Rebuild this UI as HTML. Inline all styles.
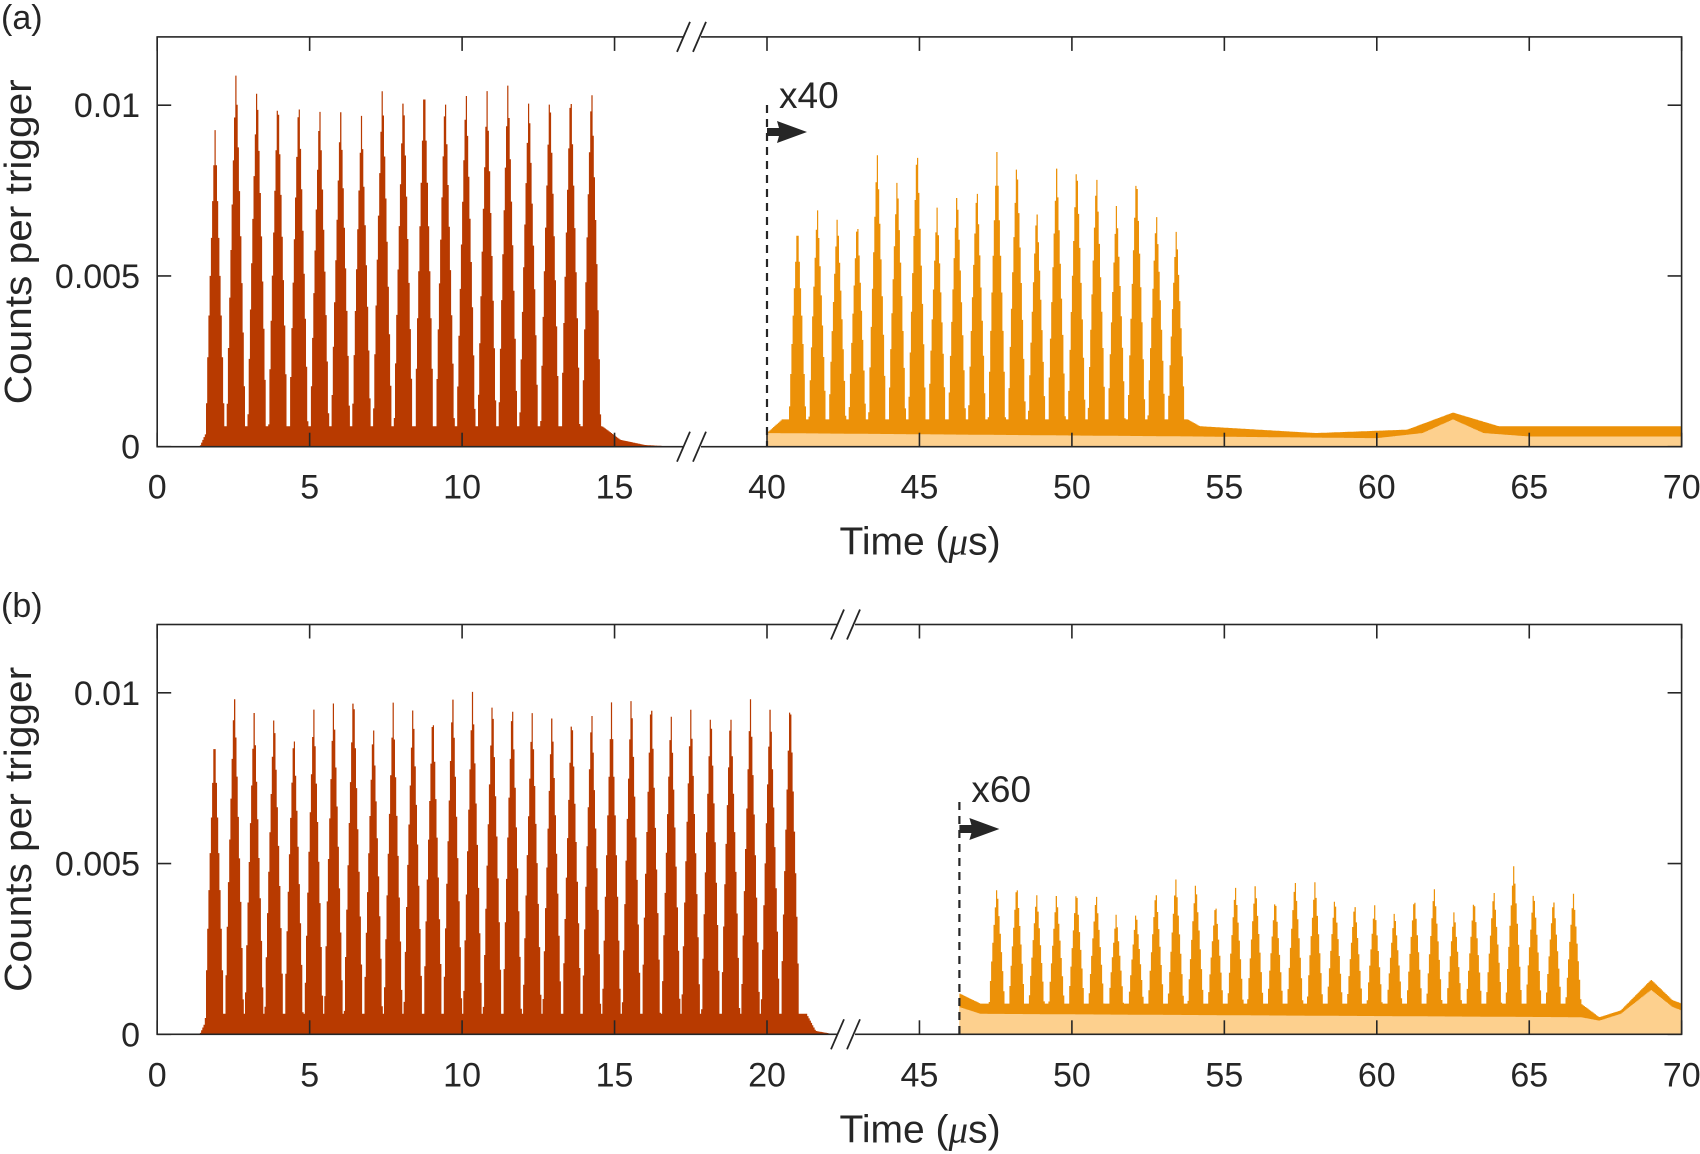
<!DOCTYPE html>
<html><head><meta charset="utf-8"><style>
html,body{margin:0;padding:0;background:#fff;}
svg{display:block;}
text{font-family:"Liberation Sans",Arial,sans-serif;fill:#262626;}
</style></head>
<body>
<svg id="fig" width="1700" height="1154" viewBox="0 0 1700 1154" xmlns="http://www.w3.org/2000/svg"></svg>
<script>
// ---- data ----
const redA_heights = [0.00927,0.01105,0.01069,0.01035,0.01033,0.01008,0.0099,0.00974,0.01064,0.01045,0.01076,0.01042,0.0105,0.01047,0.01069,0.01033,0.01048,0.01056,0.01064];
const redA_start = 1.9, redA_period = 0.686;
const orA_heights = [0.00655,0.00704,0.0068,0.00672,0.00863,0.00795,0.00886,0.00704,0.00754,0.00771,0.00863,0.00845,0.00704,0.00819,0.00836,0.00804,0.00713,0.00805,0.00688,0.0064];
const orA_start = 41.0, orA_period = 0.654;
const redB_heights = [0.00884,0.01006,0.00946,0.00953,0.00897,0.00964,0.00985,0.01016,0.0092,0.00974,0.00975,0.00955,0.01002,0.01011,0.00995,0.00985,0.00951,0.00943,0.00948,0.00961,0.00972,0.01006,0.00997,0.00948,0.00961,0.00961,0.00958,0.00989,0.00972,0.00994];
const redB_start = 1.88, redB_period = 0.651;
const orB_heights = [0.00434,0.00444,0.00414,0.00412,0.00426,0.00414,0.00352,0.00362,0.00424,0.00456,0.00448,0.00388,0.00436,0.00441,0.00401,0.00456,0.00448,0.00404,0.00388,0.0038,0.00363,0.00406,0.00432,0.00363,0.004,0.00426,0.00495,0.00422,0.00402,0.00414];
const orB_start = 47.54, orB_period = 0.652;
const redA_bgT = [1.4,1.7,14.6,15.2,16,17]; const redA_bg = [0,0.0006,0.0006,0.0002,0.00005,0];
const orA_darkT = [40,40.5,53.8,54.2,58,61,62.5,64,66,70]; const orA_dark = [0.0004,0.0008,0.0008,0.0006,0.0004,0.0005,0.001,0.0006,0.0006,0.0006];
const orA_lightT = [40,54,60,61.5,62.5,63.5,65,70]; const orA_light = [0.0004,0.0003,0.00025,0.0004,0.0008,0.0004,0.0003,0.0003];
const redB_bgT = [1.4,1.7,21.3,21.6,22.2]; const redB_bg = [0,0.0006,0.0006,0.0001,0];
const orB_darkT = [46.31,47,66.7,67.3,68,69,69.7,70]; const orB_dark = [0.0012,0.0009,0.0009,0.0005,0.0007,0.0016,0.001,0.0009];
const orB_lightT = [46.31,47,66.7,67.3,68,69,69.7,70]; const orB_light = [0.0008,0.0006,0.0005,0.0004,0.0006,0.0013,0.0008,0.0007];
const xTicksA = [0,5,10,15,40,45,50,55,60,65,70];
const xTicksB = [0,5,10,15,20,45,50,55,60,65,70];
const yTicks = [0,0.005,0.01];
const yTickLabels = ["0","0.005","0.01"];

const NS = "http://www.w3.org/2000/svg";
const svg = document.getElementById('fig');
function el(tag, attrs, parent){ const e=document.createElementNS(NS,tag); for(const k in attrs) e.setAttribute(k,attrs[k]); (parent||svg).appendChild(e); return e; }
function interp(T,V,t){ if(t<=T[0]) return V[0]; for(let i=1;i<T.length;i++){ if(t<=T[i]){ const f=(t-T[i-1])/(T[i]-T[i-1]); return V[i-1]+f*(V[i]-V[i-1]); } } return V[V.length-1]; }
function peaksAt(t,start,period,H,hw){ let s=0; for(let i=0;i<H.length;i++){ const c=start+i*period; const d=Math.abs(t-c); if(d<hw) s=Math.max(s,H[i]*Math.pow(1-d/hw,0.85)); } return s; }

function panel(cfg){
  const L=157.2,R=1681.6,T=cfg.top,B=cfg.bottom,k=30.49;
  const X=t=> t<=cfg.brk ? L+t*k : L+(t-cfg.gap)*k;
  const Y=v=> B-v*(B-T)/0.012;
  const g=el('g',{});  
  const bin=0.04;
  function stepPath(t0,t1,fn){ let d=`M${X(t0).toFixed(1)},${B}`; for(let t=t0;t<t1-1e-9;t+=bin){ const v=Math.max(0,fn(t+bin/2)); const y=Y(v).toFixed(1); d+=`L${X(t).toFixed(1)},${y}L${X(Math.min(t+bin,t1)).toFixed(1)},${y}`; } d+=`L${X(t1).toFixed(1)},${B}Z`; return d; }
  const red=el('path',{d:stepPath(cfg.redT0,cfg.redT1,t=>Math.max(interp(cfg.redBgT,cfg.redBg,t),peaksAt(t,cfg.redStart,cfg.redPeriod,cfg.redH,0.31))),fill:'#b83a00'},g);
   
  const dark=el('path',{d:stepPath(cfg.orT0,70,t=>Math.max(interp(cfg.darkT,cfg.dark,t),peaksAt(t,cfg.orStart,cfg.orPeriod,cfg.orH,0.30))),fill:'#ec9108'},g);
   
  const light=el('path',{d:stepPath(cfg.orT0,70,t=>interp(cfg.lightT,cfg.light,t)),fill:'#fdd08e'},g);
   
  const box=el('rect',{x:L,y:T,width:R-L,height:B-T,fill:'none',stroke:'#262626','stroke-width':1.6},g);
   
  cfg.xt.forEach(v=>{ const x=X(v);
    el('line',{x1:x,y1:B,x2:x,y2:B-14,stroke:'#262626','stroke-width':1.6},g);
    el('line',{x1:x,y1:T,x2:x,y2:T+14,stroke:'#262626','stroke-width':1.6},g);
    const tl=el('text',{x:x,y:B+52,'font-size':34,'text-anchor':'middle'},g); tl.textContent=v;
     
  });
  yTicks.forEach((v,i)=>{ const y=Y(v);
    el('line',{x1:L,y1:y,x2:L+14,y2:y,stroke:'#262626','stroke-width':1.6},g);
    el('line',{x1:R,y1:y,x2:R-14,y2:y,stroke:'#262626','stroke-width':1.6},g);
    const tl=el('text',{x:140,y:y+12,'font-size':34,'text-anchor':'end'},g); tl.textContent=yTickLabels[i];
     
  });
  [T,B].forEach(yy=>{
    const bg=el('g',{},g);  
    el('rect',{x:cfg.bx-8,y:yy-3,width:17,height:6,fill:'#fff'},bg);
    el('line',{x1:cfg.bx-15,y1:yy+15,x2:cfg.bx-2,y2:yy-15,stroke:'#262626','stroke-width':1.8},bg);
    el('line',{x1:cfg.bx+1,y1:yy+15,x2:cfg.bx+14,y2:yy-15,stroke:'#262626','stroke-width':1.8},bg);
  });
  const dx=X(cfg.dashT);
  const dl=el('line',{x1:dx,y1:cfg.dashTop,x2:dx,y2:B,stroke:'#262626','stroke-width':2.2,'stroke-dasharray':'8,6'},g);
   
  const ay=cfg.arrowY;
  const ar=el('path',{d:`M${dx},${ay-4}L${dx+12},${ay-4}L${dx+10},${ay-11}L${dx+40},${ay}L${dx+10},${ay+11}L${dx+12},${ay+4}L${dx},${ay+4}Z`,fill:'#262626'},g);
   
  const sl=el('text',{x:dx+12,y:cfg.labelY,'font-size':37},g); sl.textContent=cfg.scaleLabel;
   
  const xt=el('text',{x:920,y:B+108,'font-size':39,'text-anchor':'middle'},g); xt.innerHTML='Time (<tspan font-style="italic" font-family="Liberation Serif, serif">μ</tspan>s)';
   
  const cy=(T+B)/2;
  const yt=el('text',{x:0,y:0,'font-size':38,'text-anchor':'middle',transform:`translate(31,${cy}) rotate(-90)`,textLength:325,lengthAdjust:'spacingAndGlyphs'},g); yt.textContent='Counts per trigger';
   
  const pl=el('text',{x:1,y:cfg.panelLabelY,'font-size':34},g); pl.textContent=cfg.panelLabel;
   
}

panel({name:'panel-a',top:36.9,bottom:446.7,brk:17.4,gap:20,bx:692,xt:xTicksA,
  redT0:1.4,redT1:17,redBgT:redA_bgT,redBg:redA_bg,redStart:redA_start,redPeriod:redA_period,redH:redA_heights,
  orT0:40,darkT:orA_darkT,dark:orA_dark,lightT:orA_lightT,light:orA_light,orStart:orA_start,orPeriod:orA_period,orH:orA_heights,
  dashT:40,dashTop:105,arrowY:132,labelY:108,scaleLabel:'x40',panelLabel:'(a)',panelLabelY:29});
panel({name:'panel-b',top:624.5,bottom:1034.3,brk:22.6,gap:20,bx:846,xt:xTicksB,
  redT0:1.4,redT1:22.2,redBgT:redB_bgT,redBg:redB_bg,redStart:redB_start,redPeriod:redB_period,redH:redB_heights,
  orT0:46.31,darkT:orB_darkT,dark:orB_dark,lightT:orB_lightT,light:orB_light,orStart:orB_start,orPeriod:orB_period,orH:orB_heights,
  dashT:46.31,dashTop:802,arrowY:829,labelY:802,scaleLabel:'x60',panelLabel:'(b)',panelLabelY:617});
</script>
</body></html>
